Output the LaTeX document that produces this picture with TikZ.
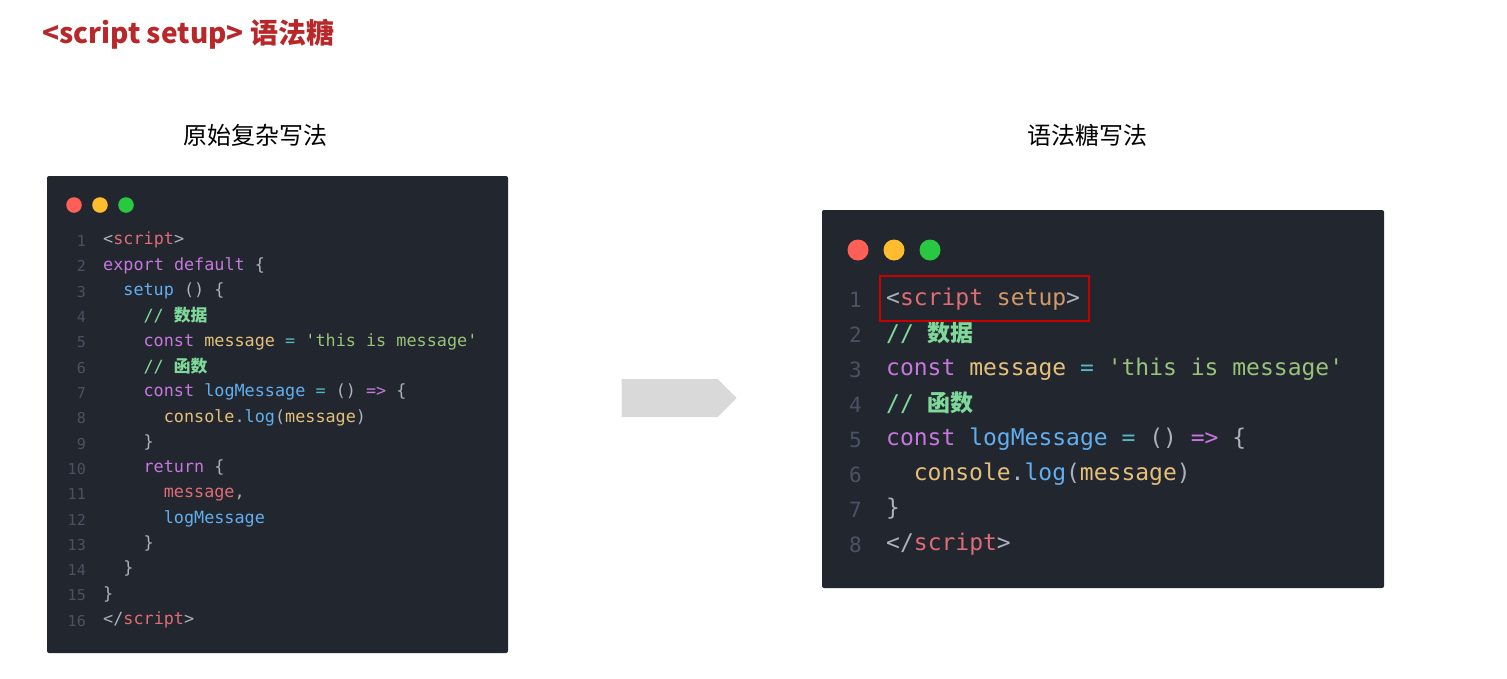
\documentclass[tikz,border=0pt]{standalone}
\usepackage{fontspec}
\setmainfont{Noto Sans CJK SC}
\setmonofont{DejaVu Sans Mono}
\newfontfamily\cjk{Noto Sans CJK SC}
\usetikzlibrary{shapes.arrows}
\definecolor{bg}{HTML}{22262E}
\definecolor{ln}{HTML}{4B5263}
\definecolor{pu}{HTML}{C678DD}
\definecolor{rd}{HTML}{E06C75}
\definecolor{bl}{HTML}{61AFEF}
\definecolor{ye}{HTML}{E5C07B}
\definecolor{sg}{HTML}{98C379}
\definecolor{cm}{HTML}{7FD99A}
\definecolor{gy}{HTML}{ABB2BF}
\definecolor{cy}{HTML}{56B6C2}
\definecolor{og}{HTML}{D19A66}
\definecolor{tred}{HTML}{B8282A}
\newcommand{\kP}[1]{\textcolor{pu}{#1}}
\newcommand{\kR}[1]{\textcolor{rd}{#1}}
\newcommand{\kB}[1]{\textcolor{bl}{#1}}
\newcommand{\kY}[1]{\textcolor{ye}{#1}}
\newcommand{\kG}[1]{\textcolor{sg}{#1}}
\newcommand{\kC}[1]{\textcolor{cm}{#1}}
\newcommand{\kQ}[1]{\textcolor{cy}{#1}}
\newcommand{\kO}[1]{\textcolor{og}{#1}}
\newcommand{\kcn}[1]{{\cjk\bfseries #1}}
\begin{document}
\begin{tikzpicture}[x=1pt,y=-1pt,
  codeL/.style={anchor=west,inner sep=0pt,font=\ttfamily\fontsize{16.8}{18}\selectfont,text=gy},
  codeR/.style={anchor=west,inner sep=0pt,font=\ttfamily\fontsize{23}{25}\selectfont,text=gy},
  numL/.style={anchor=east,inner sep=0pt,font=\ttfamily\fontsize{15}{16}\selectfont,text=ln},
  numR/.style={anchor=east,inner sep=0pt,font=\ttfamily\fontsize{21}{22}\selectfont,text=ln},
  win/.style={fill=bg,rounded corners=2pt}]
\useasboundingbox (0,0) rectangle (1507,678);
\node[anchor=west,inner sep=0pt,text=tred,font=\bfseries\fontsize{28}{30}\selectfont] (title) at (42,34) {<script setup> 语法糖};
\node[font=\fontsize{24}{26}\selectfont] (h1) at (255,135) {原始复杂写法};
\node[font=\fontsize{24}{26}\selectfont] (h2) at (1087,135) {语法糖写法};
% left window
\fill[win] (47,176) rectangle (508,653);
\foreach \x/\c in {74/FF5F57,100/FEBC2E,126/28C840}{\definecolor{tmp}{HTML}{\c}\fill[tmp] (\x,205) circle (7.8);}
\foreach \i in {1,...,16}{\node[numL] (nl\i) at (86,{241+(\i-1)*25.33}) {\i};}
\foreach \i/\ind/\t in {
 1/0/{<\kR{script}>},
 2/0/{\kP{export} \kP{default} \{},
 3/2/{\kB{setup} () \{},
 4/4/{\kC{// \kcn{数据}}},
 5/4/{\kP{const} \kY{message} \kQ{=} \kG{'this is message'}},
 6/4/{\kC{// \kcn{函数}}},
 7/4/{\kP{const} \kB{logMessage} \kQ{=} () \kP{=>} \{},
 8/6/{\kY{console}.\kB{log}(\kY{message})},
 9/4/{\}},
 10/4/{\kP{return} \{},
 11/6/{\kR{message},},
 12/6/{\kB{logMessage}},
 13/4/{\}},
 14/2/{\}},
 15/0/{\}},
 16/0/{</\kR{script}>}}{
 \node[codeL] (cl\i) at ({103+\ind*10.1},{241+(\i-1)*25.33}) {\strut\t};}
% arrow
\node[single arrow,fill=black!15,minimum height=115pt,minimum width=38pt,single arrow head extend=0pt,inner sep=0pt,
  single arrow tip angle=90] (arr) at (669.5,398) {};
% right window
\fill[win] (822,210) rectangle (1384,588);
\foreach \x/\c in {858/FF5F57,894/FEBC2E,930/28C840}{\definecolor{tmp}{HTML}{\c}\fill[tmp] (\x,250) circle (10.5);}
\foreach \i in {1,...,8}{\node[numR] (nr\i) at (862,{300+(\i-1)*35}) {\i};}
\foreach \i/\ind/\t in {
 1/0/{<\kR{script} \kO{setup}>},
 2/0/{\kC{// \kcn{数据}}},
 3/0/{\kP{const} \kY{message} \kQ{=} \kG{'this is message'}},
 4/0/{\kC{// \kcn{函数}}},
 5/0/{\kP{const} \kB{logMessage} \kQ{=} () \kP{=>} \{},
 6/2/{\kY{console}.\kB{log}(\kY{message})},
 7/0/{\}},
 8/0/{</\kR{script}>}}{
 \node[codeR] (cr\i) at ({886+\ind*13.8},{300+(\i-1)*35}) {\strut\t};}
\draw[draw={rgb,255:red,200;green,0;blue,0},line width=2pt] (880,276) rectangle (1089,321);
\end{tikzpicture}
\end{document}
